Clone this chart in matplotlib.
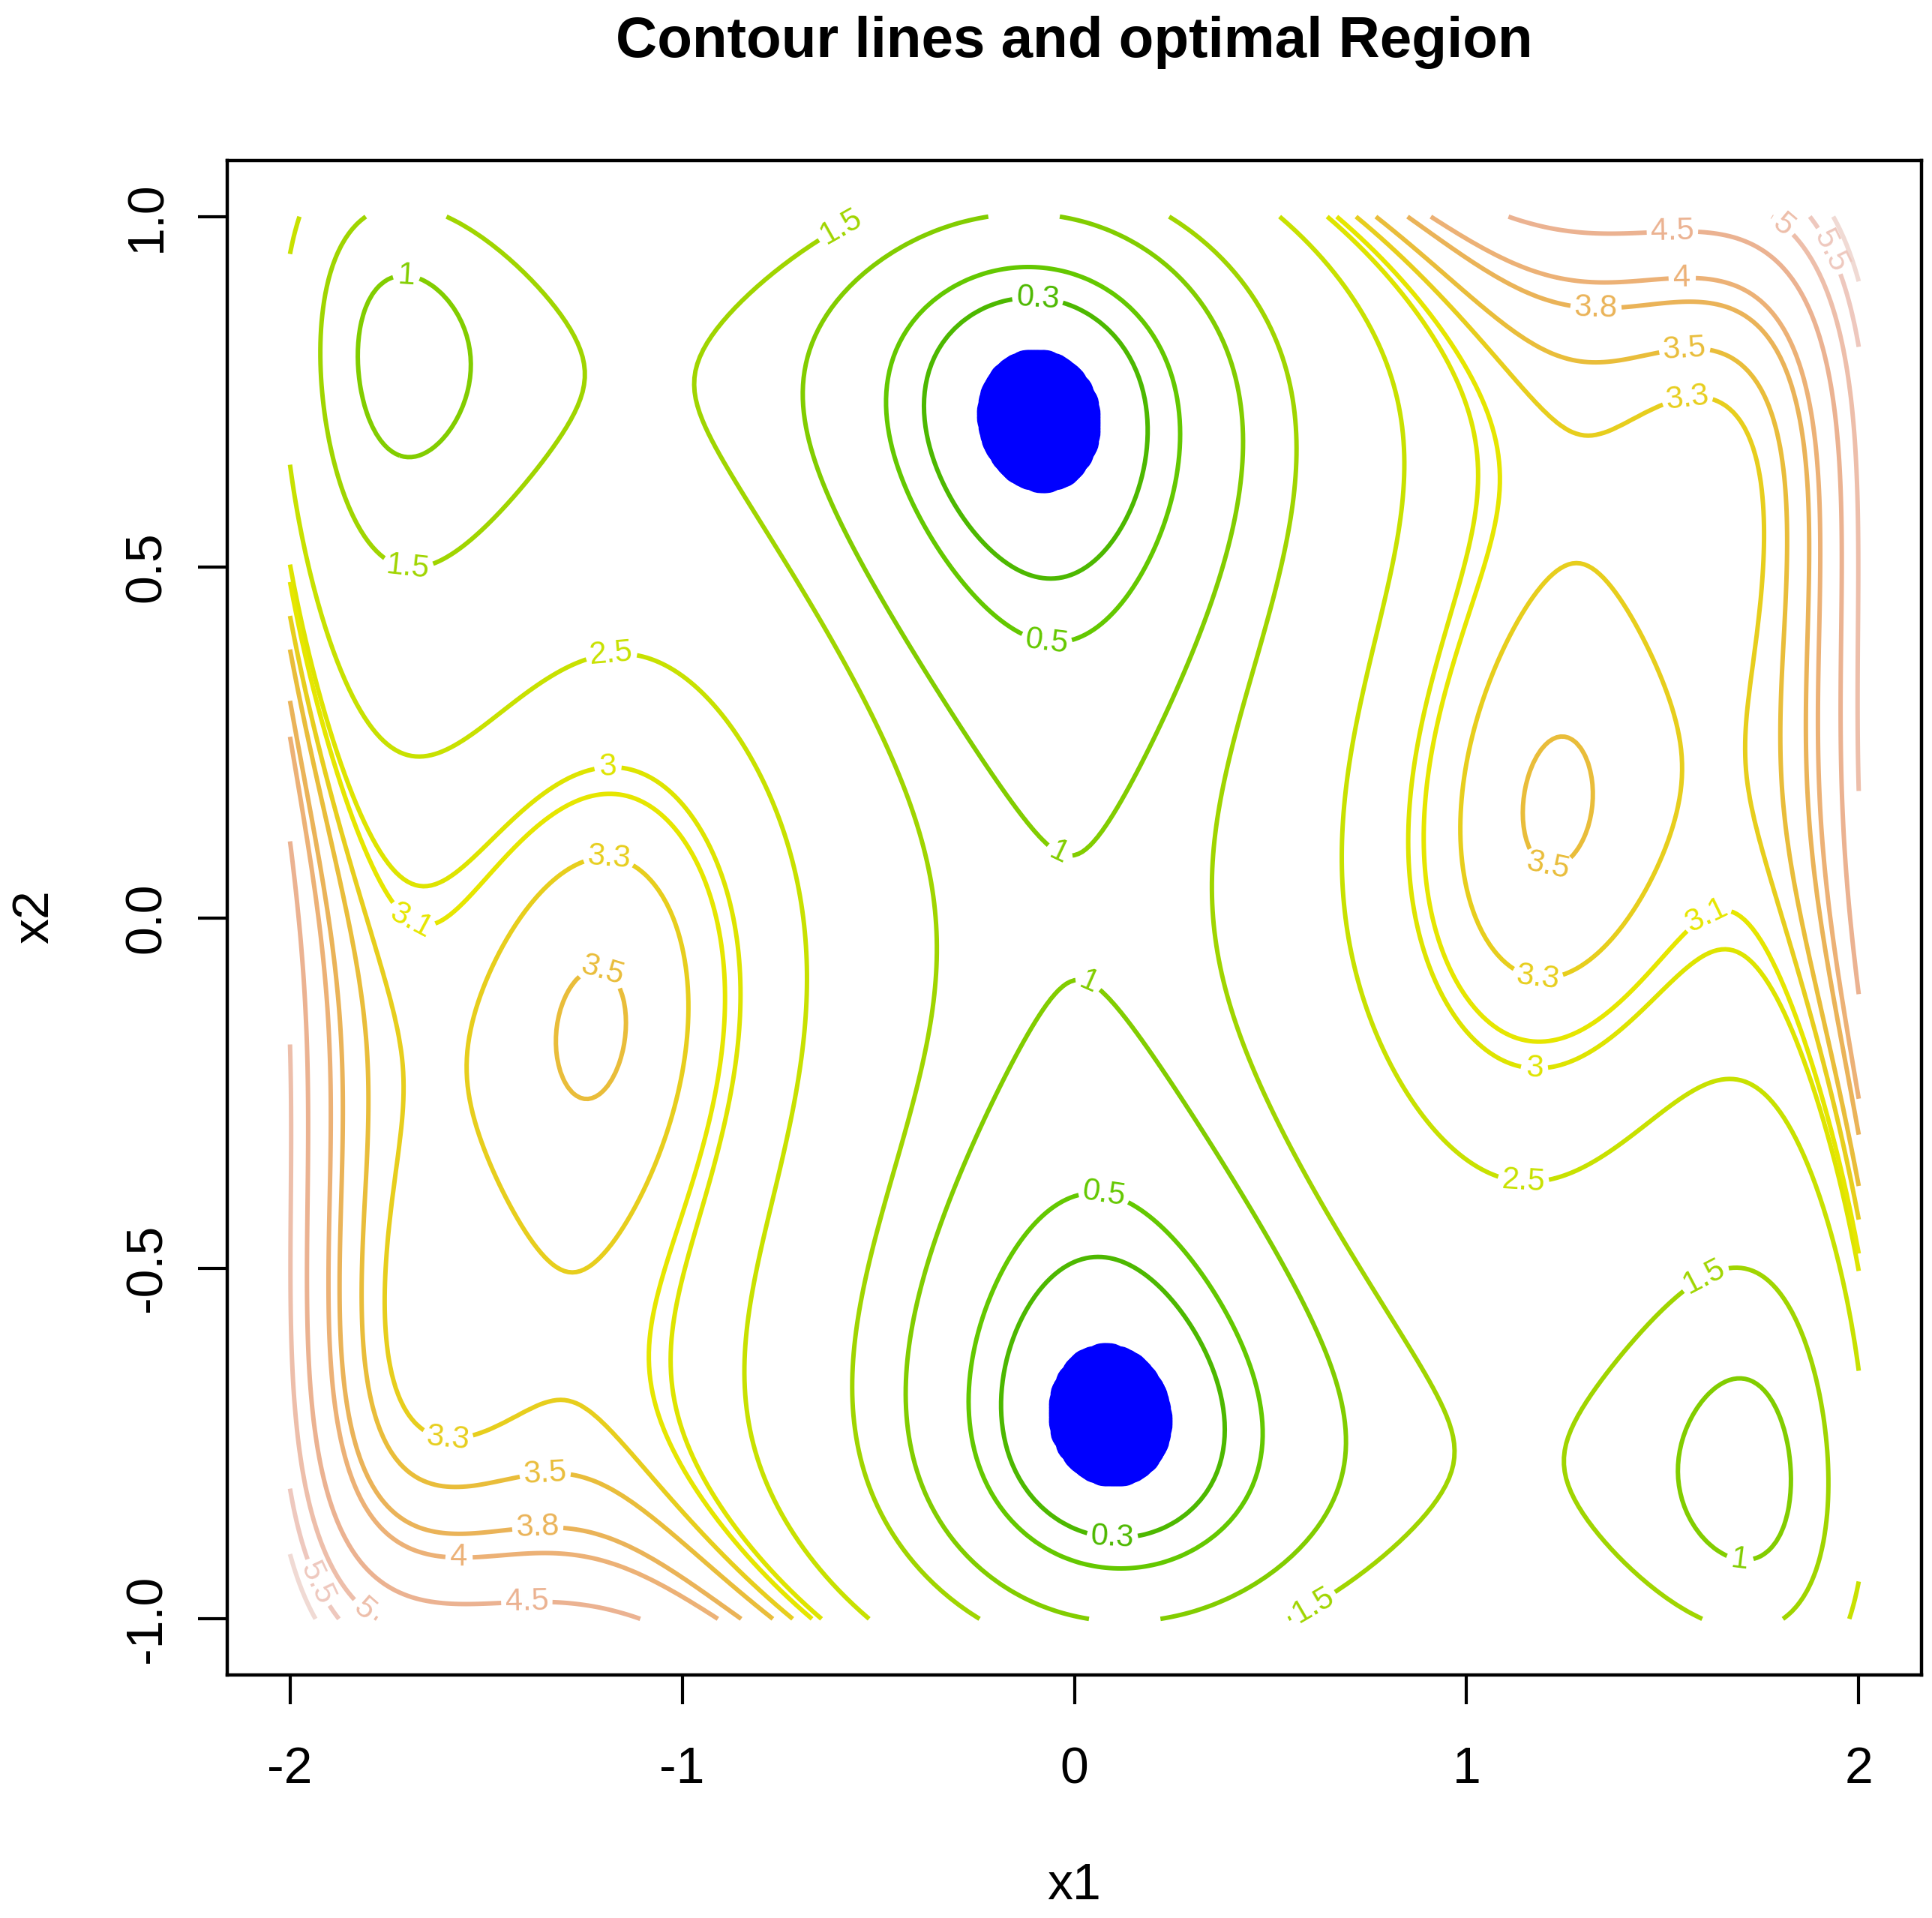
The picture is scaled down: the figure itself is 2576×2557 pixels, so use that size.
import numpy as np
import matplotlib
matplotlib.use("Agg")
import matplotlib.pyplot as plt

plt.rcParams['font.family'] = ['Liberation Sans', 'DejaVu Sans']
plt.rcParams['axes.unicode_minus'] = False

# six-hump camel surface, shifted so the global minimum sits at 0
x1 = np.linspace(-2, 2, 401)
x2 = np.linspace(-1, 1, 201)
shift = 1.0316

levels = [0.3, 0.5, 1, 1.5, 2.5, 3, 3.1, 3.3, 3.5, 3.8, 4, 4.5, 5, 5.5, 6]
level_colors = ['#4DB800', '#64C800', '#82CD00', '#A0D500', '#C8E100', '#DEE400', '#E6E600',
                '#E7CE1D', '#E9BD3A', '#EAB358', '#ECB176', '#EBB291', '#EDBEAA', '#EEC8BE', '#F0DAD4']

# threshold that defines the "optimal region"
opt_thresh = 0.043
opt_step = 0.004

xticks = [-2, -1, 0, 1, 2]
xtick_labels = ['-2', '-1', '0', '1', '2']
yticks = [-1.0, -0.5, 0.0, 0.5, 1.0]
ytick_labels = ['-1.0', '-0.5', '0.0', '0.5', '1.0']


def camel(a, b):
    return (4 - 2.1 * a**2 + a**4 / 3) * a**2 + a * b + (-4 + 4 * b**2) * b**2 + shift


X1, X2 = np.meshgrid(x1, x2)
Z = camel(X1, X2)

# points of the optimal region
g1, g2 = np.meshgrid(np.arange(-0.3, 0.3 + opt_step / 2, opt_step),
                     np.arange(-0.9, 0.9 + opt_step / 2, opt_step))
mask = camel(g1, g2) < opt_thresh
opt_x1 = g1[mask]
opt_x2 = g2[mask]

# where the contour labels go (layout only)
label_pos = [(-1.704, 0.907), (-1.698, 0.509), (-0.594, 0.984), (-0.094, 0.877),
             (-0.069, 0.401), (-0.031, 0.102), (-1.179, 0.368), (-1.189, 0.209),
             (-1.673, 0.011), (-1.189, 0.072), (-1.200, -0.070), (1.525, 0.975),
             (1.802, 0.984), (1.918, 0.949), (1.550, 0.908), (1.330, 0.870),
             (1.557, 0.803), (1.566, 0.729), (1.205, 0.070), (1.182, -0.081),
             (1.635, -0.019), (1.173, -0.218), (1.145, -0.375), (0.025, -0.107),
             (0.072, -0.407), (0.097, -0.882), (1.613, -0.518), (1.698, -0.912),
             (0.607, -0.979), (-1.597, -0.732), (-1.349, -0.798), (-1.368, -0.875),
             (-1.569, -0.915), (-1.396, -0.981), (-1.814, -0.988), (-1.931, -0.949)]

W, H = 2576, 2557
fig = plt.figure(figsize=(W / 100, H / 100), dpi=100)
ax = fig.add_axes([303 / W, (H - 2233) / H, (2562 - 303) / W, (2233 - 214) / H])

cs = ax.contour(X1, X2, Z, levels=levels, colors=level_colors, linewidths=4.3)
ax.clabel(cs, levels, inline=True, fmt='%g', fontsize=30, manual=label_pos, inline_spacing=8)

ax.plot(opt_x1, opt_x2, linestyle='none', marker='o', markersize=37, markerfacecolor='none',
        markeredgecolor='blue', markeredgewidth=3)

ax.set_xlim(-2.16, 2.16)
ax.set_ylim(-1.08, 1.08)
ax.set_xticks(xticks)
ax.set_xticklabels(xtick_labels)
ax.set_yticks(yticks)
ax.set_yticklabels(ytick_labels, rotation=90, va='center')
ax.tick_params(axis='both', length=28, width=3, labelsize=49, direction='out')
ax.tick_params(axis='x', pad=40)
ax.tick_params(axis='y', pad=26)
for s in ax.spines.values():
    s.set_linewidth(3.2)

fig.text(1432 / W, 1 - 57 / H, 'Contour lines and optimal Region', ha='center', va='center',
         fontsize=55, fontweight='bold')
fig.text(1432 / W, 1 - 2514 / H, 'x1', ha='center', va='center', fontsize=49)
fig.text(46 / W, 1 - 1222 / H, 'x2', ha='center', va='center', fontsize=49, rotation=90)

fig.savefig('out.png', dpi=100, facecolor='white')
